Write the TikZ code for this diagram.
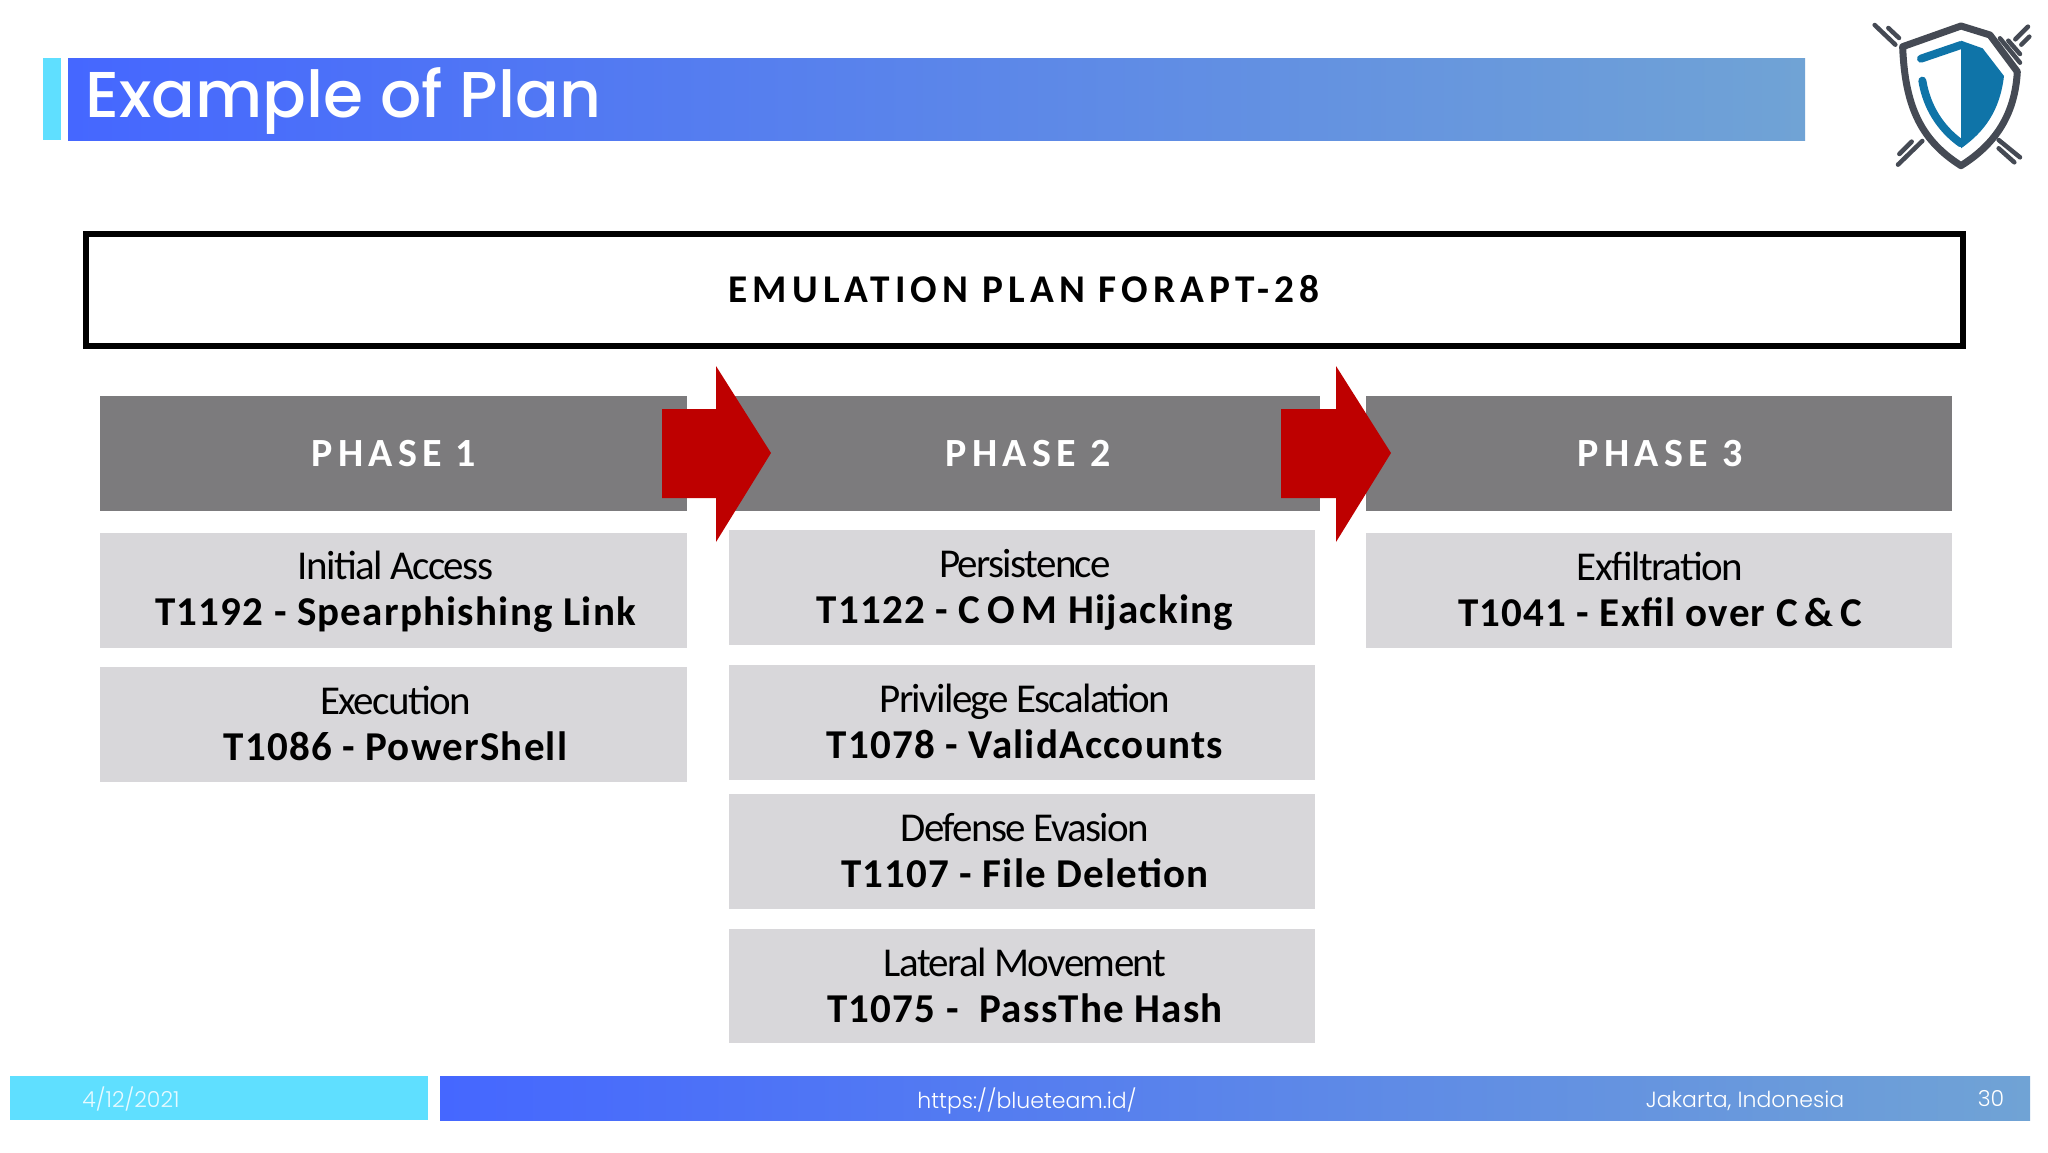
\documentclass[tikz,border=0pt]{standalone}
\usepackage{fontspec}
\setmainfont{Carlito}
\newfontfamily\titlefont{Poppins}[UprightFont=* Medium]
\newfontfamily\footfont{Poppins}[UprightFont=* Light]
\newfontfamily\headfont{Carlito}[BoldFont=Carlito Bold,LetterSpace=13]
\newfontfamily\plainrow{Carlito}[LetterSpace=-4]
\newfontfamily\boldrow{Carlito}[BoldFont=Carlito Bold,LetterSpace=3]
\definecolor{gradL}{HTML}{4567FF}
\definecolor{gradR}{HTML}{70A3D5}
\definecolor{cyanbar}{HTML}{5FDFFF}
\definecolor{hdr}{HTML}{7C7B7D}
\definecolor{rowfill}{HTML}{D8D7DA}
\definecolor{arrowred}{HTML}{BE0000}
\definecolor{shieldgrey}{HTML}{454A54}
\definecolor{shieldblue}{HTML}{0F74A8}
\tikzset{
  x=1pt,y=-1pt,
  gradbar/.style={left color=gradL,right color=gradR,draw=none,shading angle=90},
  headbox/.style={fill=hdr,text=white,inner sep=0pt},
  headtext/.style={text=white,inner sep=0pt,font=\headfont\bfseries\fontsize{40}{46}\selectfont},
  rowbox/.style={fill=rowfill,inner sep=0pt},
  rowtext/.style={text=black,inner sep=0pt,align=center,font=\fontsize{41}{46}\selectfont},
  redarrow/.style={fill=arrowred,draw=none},
  sgline/.style={draw=shieldgrey,line width=4.5pt,line cap=round},
  foot/.style={text=white,inner sep=0pt,font=\footfont\fontsize{22}{28}\selectfont}
}
\newcommand{\headerbox}[7]{%
  \node[headbox,minimum width={(#4-#2)*1pt},minimum height={(#5-#3)*1pt}] (#1) at ({(#2+#4)/2},{(#3+#5)/2}) {};
  \node[headtext] (#1t) at (#7,{(#3+#5)/2}) {#6};}
\newcommand{\taskbox}[9]{%
  \node[rowbox,minimum width={(#4-#2)*1pt},minimum height={(#5-#3)*1pt}] (#1) at ({(#2+#4)/2},{(#3+#5)/2}) {};
  \node[rowtext] (#1t) at ({(#2+#4)/2+#8},{(#3+#5)/2+#9})
    {{\plainrow #6}\\[0pt]{\boldrow\bfseries #7}};}
\begin{document}
\begin{tikzpicture}
\useasboundingbox[fill=white] (0,0) rectangle (2048,1152);
% title
\path[fill=cyanbar] (43,58) rectangle (61,140);
\path[gradbar] (68,58) rectangle (1805,140);
\node[anchor=west,text=white,inner sep=0pt,font=\titlefont\fontsize{64.7}{70}\selectfont] (title) at (85,101) {Example of Plan};
% plan box
\node[draw=black,line width=6pt,fill=white,minimum width=1877pt,minimum height=112pt,inner sep=0pt] (plan) at (1024.5,290) {};
\node[text=black,inner sep=0pt,font=\headfont\bfseries\fontsize{39.3}{46}\selectfont] (plant) at (1024,289) {EMULATION PLAN FORAPT-28};
% phases
\headerbox{ph1}{100}{396}{687}{511}{PHASE 1}{394}
\headerbox{ph2}{729}{396}{1320}{511}{PHASE 2}{1028}
\headerbox{ph3}{1366}{396}{1952}{511}{PHASE 3}{1660}
% arrows
\path[redarrow] (662,409) -- (716,409) -- (716,366) -- (771,453) -- (716,542) -- (716,498) -- (662,498) -- cycle;
\path[redarrow] (1281,409) -- (1336,409) -- (1336,366) -- (1391,453) -- (1336,542) -- (1336,498) -- (1281,498) -- cycle;
% tasks
\taskbox{a1}{100}{533}{687}{648}{Initial Access}{T1192 - Spearphishing Link}{2}{1}
\taskbox{a2}{100}{667}{687}{782}{Execution}{T1086 - PowerShell}{2}{-1}
\taskbox{b1}{729}{530}{1315}{645}{Persistence}{T1122 - C\,O\,M Hijacking}{3}{2}
\taskbox{b2}{729}{665}{1315}{780}{Privilege Escalation}{T1078 - ValidAccounts}{3}{-1}
\taskbox{b3}{729}{794}{1315}{909}{Defense Evasion}{T1107 - File Deletion}{3}{-1}
\taskbox{b4}{729}{929}{1315}{1043}{Lateral Movement}{T1075 -\ \ PassThe Hash}{3}{-1}
\taskbox{c1}{1366}{533}{1952}{648}{Exfiltration}{T1041 - Exfil over C\,\&\,C}{1}{-1}
% footer
\path[fill=cyanbar] (10,1076) rectangle (428,1120);
\path[gradbar] (440,1076) rectangle (2030,1120);
\node[foot,text=white!85!cyanbar] (date) at (131,1099) {4/12/2021};
\node[foot] (url) at (1027,1101) {https://blueteam.id/};
\node[foot] (loc) at (1745,1101) {Jakarta, Indonesia};
\node[foot] (num) at (1991,1099) {30};
% shield
\begin{scope}[shift={(1780,0)},x=0.3333pt,y=-0.3333pt]
\draw[shieldgrey,line width=7pt,line join=round] (368,140) -- (543,78) -- (630,105) -- (712,215)
  .. controls (705,340) and (650,430) .. (543,497) .. controls (430,425) and (375,330) .. cycle;
\fill[shieldblue] (543,122) -- (608,145) -- (672,228) .. controls (660,330) and (615,395) .. (543,445) -- cycle;
\draw[shieldblue,line width=8pt,line cap=round] (423,176) -- (543,135);
\draw[shieldblue,line width=8pt,line cap=round] (427,242) .. controls (440,320) and (480,385) .. (543,430);
\draw[sgline] (284,75) -- (346,134);
\draw[sgline] (325,84) -- (357,114);
\draw[sgline] (660,115) -- (720,188);
\draw[sgline] (685,122) -- (720,162);
\draw[sgline] (706,118) -- (744,80);
\draw[sgline] (724,134) -- (748,110);
\draw[sgline] (358,462) -- (395,425);
\draw[sgline] (354,494) -- (427,423);
\draw[sgline] (656,420) -- (720,472);
\draw[sgline] (656,445) -- (703,487);
\end{scope}
\end{tikzpicture}
\end{document}
